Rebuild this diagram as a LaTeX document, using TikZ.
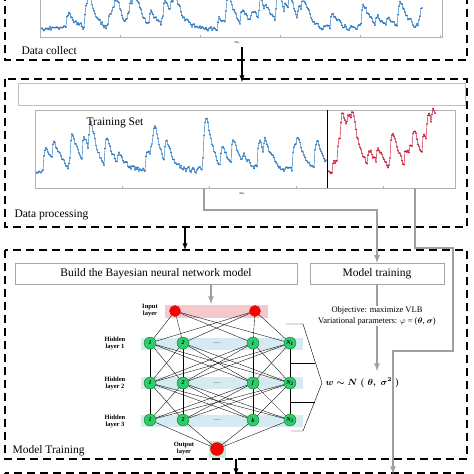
\documentclass[tikz,border=0pt]{standalone}
\usepackage{amsmath}
\usepackage{fontspec}
\setmainfont{Liberation Serif}
\usetikzlibrary{positioning}

\definecolor{nodegreen}{RGB}{45,205,110}
\definecolor{inpink}{RGB}{245,200,205}
\definecolor{hidblue}{RGB}{214,234,242}
\definecolor{outgreen}{RGB}{200,235,210}
\definecolor{plotblue}{RGB}{40,118,190}
\definecolor{plotred}{RGB}{200,20,50}

% dotted traffic series: from, to, base line, low level, peak height, colour
\newcommand{\traffic}[6]{%
  \xdef\tv{#4}\xdef\ts{0}%
  \foreach \i in {#1,...,#2} {
    \pgfmathsetmacro\ns{0.86*\ts+(rnd>0.88)*(#5*(0.3+0.7*rnd))}
    \pgfmathsetmacro\nv{max(1,\tv+0.5*(#4+\ns-\tv)+2.4*rand)}
    \draw[#6,line width=0.45pt] (\i-1,#3-\tv) -- (\i,#3-\nv);
    \fill[#6] (\i,#3-\nv) circle (0.95);
    \xdef\tv{\nv}\xdef\ts{\ns}
  }%
}

\tikzset{
  stage/.style={dash pattern=on 8pt off 5pt, line width=1.6pt},
  stepbox/.style={draw=gray!70, fill=white, inner sep=0pt, font=\fontsize{11.5}{13}\selectfont},
  stagelab/.style={anchor=west, font=\fontsize{11.5}{13}\selectfont},
  neuron/.style={circle, fill=nodegreen, draw=green!45!black, line width=0.3pt, inner sep=0pt,
    minimum size=12pt, font=\fontsize{6}{6}\selectfont\bfseries\itshape},
  redneuron/.style={circle, fill=red, draw=red!70!black, line width=0.3pt, inner sep=0pt, minimum size=12pt},
  layerlab/.style={align=center, font=\fontsize{6.5}{7}\selectfont\bfseries},
  link/.style={line width=0.35pt},
  conn/.style={draw=gray!75, line width=1.6pt, -latex},
  flow/.style={line width=1.3pt, -latex},
  frame/.style={draw=gray!60, line width=0.3pt},
}

\begin{document}
\begin{tikzpicture}[x=1pt,y=-1pt]
    \useasboundingbox (0,0) rectangle (474,474);
    \clip (0,0) rectangle (474,474);

    % stage boxes
    \draw[stage] (5,-20) rectangle (467,60);
    \draw[stage] (5,79) rectangle (467,227);
    \draw[stage] (5,250) rectangle (467,459);
    \draw[stage] (5,473) rectangle (467,520);

    % data collect
    \draw[frame] (40,-5) rectangle (442,37);
    \foreach \t in {40,120,...,440} \draw[frame] (\t,37) -- (\t,35);
    \pgfmathsetseed{11}
    \traffic{42}{422}{36}{7}{26}{plotblue}
    \node (day1) [font=\fontsize{3}{3}\selectfont] at (237,43) {Day};
    \node (collectlab) [stagelab] at (18,51) {Data collect};

    % data processing
    \node (prep) [draw=gray!50, minimum width=447, minimum height=22, inner sep=0pt] at (241.5,94) {};
    \draw[frame] (35,110) rectangle (455,188);
    \foreach \t in {35,122,...,455} \draw[frame] (\t,188) -- (\t,186);
    \pgfmathsetseed{5}
    \traffic{37}{326}{181}{10}{40}{plotblue}
    \traffic{329}{435}{181}{10}{40}{plotred}
    \draw[line width=0.5pt] (327,110) -- (327,188);
    \node (trainset) [font=\fontsize{11.5}{13}\selectfont] at (115,123) {Training Set};
    \node (day2) [font=\fontsize{3}{3}\selectfont] at (242,194) {Day};
    \node (proclab) [stagelab] at (11,215) {Data processing};

    % model training
    \node (build) [stepbox, minimum width=282, minimum height=21] at (156,273.5) {Build the Bayesian neural network model};
    \node (mtrain) [stepbox, minimum width=134, minimum height=21] at (377,273.5) {Model training};
    \node (trainlab) [stagelab] at (9,451) {Model Training};

    % layer bands
    \node (inband) [fill=inpink, minimum width=103, minimum height=13, inner sep=0pt] at (216.5,311) {};
    \foreach \lay/\y in {1/344,2/383,3/421}
        \node (band\lay) [fill=hidblue, minimum width=162, minimum height=12, inner sep=0pt] at (222,\y) {};
    \node (outband) [fill=outgreen, minimum size=17, inner sep=0pt] at (217,449) {};

    % neurons
    \node (in1) [redneuron, minimum size=11pt] at (175,311) {};
    \node (in2) [redneuron, minimum size=11pt] at (255,311) {};
    \foreach \lay/\y/\m in {1/343/i,2/383/j,3/420/k} {
        \node (h\lay a) [neuron] at (150,\y) {1};
        \node (h\lay b) [neuron] at (183,\y) {2};
        \node (h\lay d) [font=\tiny] at (217,\y) {......};
        \node (h\lay c) [neuron] at (253,\y) {\m};
        \node (h\lay n) [neuron] at (290,\y) {N\textsubscript{\lay}};
    }
    \node (out) [redneuron, minimum size=13pt] at (217,449) {};

    \foreach \s in {a,b,c,n} {
        \draw[link] (in1) -- (h1\s);
        \draw[link] (in2) -- (h1\s);
        \draw[link] (h3\s) -- (out);
    }
    \foreach \s in {a,b,c,n}
        \foreach \t in {a,b,c,n} {
            \draw[link] (h1\s) -- (h2\t);
            \draw[link] (h2\s) -- (h3\t);
        }

    \node (inlab) [layerlab] at (150,311) {Input\\layer};
    \node (hlab1) [layerlab] at (115,343) {Hidden\\layer 1};
    \node (hlab2) [layerlab] at (115,383) {Hidden\\layer 2};
    \node (hlab3) [layerlab] at (115,421) {Hidden\\layer 3};
    \node (outlab) [layerlab] at (184,449) {Output\\layer};

    % weight prior bracket
    \coordinate (wapex) at (322,383);
    \draw[line width=0.4pt] (286,324) -- (303,324) -- (wapex) -- (303,431) -- (291,431);
    \draw[line width=0.4pt] (291,363) -- (315,363);
    \draw[line width=0.4pt] (291,402) -- (315,402);
    \node (wdist) [anchor=west, font=\fontsize{9}{10}\selectfont] at (wapex) {$\boldsymbol{w\sim N\;(\;\theta,\;\sigma^2\;)}$};

    % connectors
    \coordinate (inarrow) at (211,304);
    \coordinate (wtip) at (377,371);
    \coordinate (tsplit) at (204,188);
    \coordinate (vsplit) at (415,188);
    \coordinate (nextin) at (393,474);
    \draw[conn] (build.south -| inarrow) -- (inarrow);
    \draw[conn] (mtrain.south) -- (wtip);
    \node (objective) [fill=white, align=center, inner sep=1pt, font=\fontsize{8.5}{10.5}\selectfont] at (377,316)
        {Objective: maximize VLB\\Variational parameters: $\varphi$ = ($\boldsymbol{\theta}$, $\boldsymbol{\sigma}$)};
    \draw[conn] (tsplit) -- ++(0,22) -| (mtrain.north);
    \draw[conn] (vsplit) -- ++(0,60) -- ++(38,0) -- ++(0,103) -- ++(-60,0) -- (nextin);

    % stage arrows
    \coordinate (c1) at (242,47);
    \coordinate (p1) at (242,82);
    \coordinate (c2) at (185,228);
    \coordinate (p2) at (185,250);
    \coordinate (c3) at (236,459);
    \coordinate (p3) at (236,475);
    \draw[flow] (c1) -- (p1);
    \draw[flow] (c2) -- (p2);
    \draw[flow] (c3) -- (p3);
\end{tikzpicture}
\end{document}
